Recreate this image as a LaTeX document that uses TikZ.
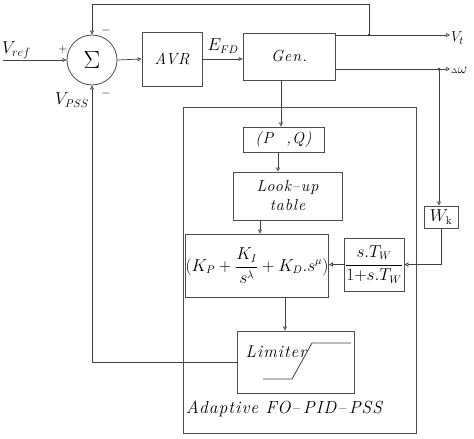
\documentclass[tikz,border=0pt]{standalone}
\usepackage{fontspec}
\newfontfamily\wide{Latin Modern Roman}[LetterSpace=6, Ligatures=TeX]
\usetikzlibrary{arrows.meta,calc}
\begin{document}
\begin{tikzpicture}[x=1pt,y=-1pt,
  ln/.style={draw=black!75, line width=0.7pt},
  arr/.style={ln, -{Triangle[open,length=4pt,width=4pt]}},
  blk/.style={draw=black!70, line width=0.8pt, rectangle, inner sep=0pt, font=\fontsize{16}{19}\selectfont\wide\itshape},
  lbl/.style={inner sep=0pt, font=\fontsize{16}{18}\selectfont},
  sgn/.style={inner sep=0pt, font=\fontsize{12}{12}\selectfont}]
\useasboundingbox (0,0) rectangle (474,439);
% blocks
\node[draw=black!70, line width=0.8pt, circle, minimum size=50pt, inner sep=0pt] (sum) at (92,60) {\fontsize{32}{34}\selectfont$\Sigma$};
\node[blk, minimum width=60pt, minimum height=54pt] (avr) at (172,59) {AVR};
\node[blk, minimum width=92pt, minimum height=47pt] (gen) at (289,56.5) {Gen.};
\node[draw=black!70, line width=0.8pt, minimum width=233pt, minimum height=326pt, inner sep=0pt] (big) at (299.5,270) {};
\node[blk, minimum width=81pt, minimum height=25pt] (pq) at (283.5,139.5) {(P\ \ ,Q)};
\node[blk, minimum width=109pt, minimum height=48pt, align=center] (lut) at (287.5,196) {Look--up\\table};
\node[blk, minimum width=138pt, minimum height=63pt, font=\fontsize{16}{18}\selectfont] (pid) at (257,265.5) {$\displaystyle(K_P+\frac{K_I}{s^{\lambda}}+K_D.s^{\mu})$};
\node[blk, minimum width=60pt, minimum height=53pt, font=\fontsize{16}{18}\selectfont] (tw) at (374,264.5) {$\displaystyle\frac{s.T_W}{1{+}s.T_W}$};
\node[blk, minimum width=34pt, minimum height=22pt, font=\fontsize{16}{18}\selectfont] (wk) at (441,217) {$W_{\mathrm{k}}$};
\node[blk, minimum width=117pt, minimum height=62pt] (lim) at (295.5,362) {};
\node[inner sep=0pt, font=\fontsize{17}{19}\selectfont\wide\itshape] (limt) at (276,352) {Limiter};
\draw[line width=0.8pt, black!75] (263,379) -- (292,379) -- (312,343) -- (351,343);
\node[inner sep=0pt, anchor=west, font=\fontsize{17.5}{19}\selectfont\wide\itshape] (ttl) at (186,409) {Adaptive FO--\,PID--\,PSS};
% labels
\node[lbl, anchor=south west, font=\fontsize{18}{20}\selectfont] (vref) at (2,59) {$V_{ref}$};
\node[lbl] (vpss) at (72,100) {$V_{PSS}$};
\node[lbl] (efd) at (223,46) {$E_{FD}$};
\node[lbl, anchor=west, font=\fontsize{15}{17}\selectfont] (vt) at (451,38) {$V_t$};
\node[lbl, anchor=west, font=\fontsize{14}{14}\selectfont] (dw) at (451,70) {$\scriptscriptstyle\Delta$$\omega$};
\node[sgn] (p1) at (63,49) {$+$};
\node[sgn] (m1) at (106,31) {$-$};
\node[sgn] (m2) at (106,93) {$-$};
% coordinates
\coordinate (vin) at (3,60);
\coordinate (g1) at (335,35);
\coordinate (g2) at (335,69);
\coordinate (j1) at (369,35);
\coordinate (j2) at (439,69);
\coordinate (vtend) at (450,35);
\coordinate (dwend) at (450,69);
% connectors
\draw[arr] (vin) -- (sum.west);
\draw[arr] (sum.east) -- (avr.west);
\draw[arr] (avr.east) -- (avr.east -| gen.west);
\draw[arr] (g1) -- (vtend);
\draw[arr] (g2) -- (dwend);
\fill[black!80] (j1) circle (1.3pt);
\fill[black!80] (j2) circle (1.3pt);
\draw[arr] (j1) -- (j1 |- 0,4) -- (sum.north |- 0,4) -- (sum.north);
\draw[arr] (j2) -- (wk.north -| j2);
\draw[arr] (gen.south -| 281,0) -- (pq.north -| 281,0);
\draw[arr] (pq.south -| 278,0) -- (lut.north -| 278,0);
\draw[arr] (lut.south -| 260,0) -- (pid.north -| 260,0);
\draw[arr] (wk.south) -- (wk.south |- tw.east) -- (tw.east);
\draw[arr] (tw.west) -- (pid.east |- tw.west);
\draw[arr] (pid.south -| 285,0) -- (lim.north -| 285,0);
\draw[arr] (lim.west) -- (sum.south |- lim.west) -- (sum.south);
\end{tikzpicture}
\end{document}
